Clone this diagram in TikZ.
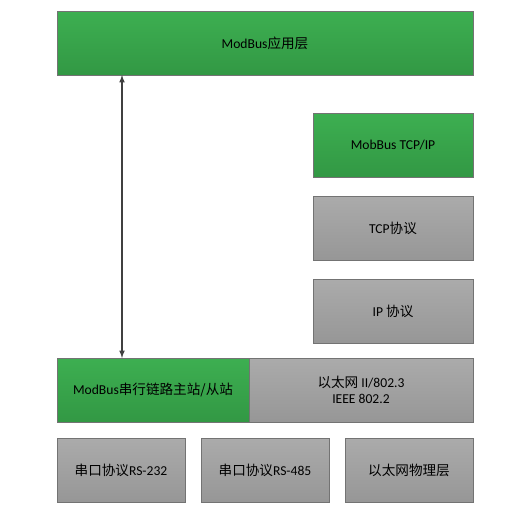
\documentclass[tikz,border=0pt]{standalone}
\usepackage{fontspec}
\setmainfont{Carlito}
\newfontfamily\cjk{Noto Sans CJK SC}
\usetikzlibrary{arrows}
\usetikzlibrary{shadows}

\definecolor{greentop}{RGB}{61,175,81}
\definecolor{greenbottom}{RGB}{50,152,68}

\begin{document}
\begin{tikzpicture}[x=0.75pt, y=-0.75pt,
    layer/.style={draw=black!55, line width=0.6pt, inner sep=0pt, outer sep=0pt,
        align=center, font=\fontsize{10.2}{12.5}\selectfont,
        drop shadow={shadow xshift=1pt, shadow yshift=-1pt, fill=black!20, opacity=0.6}},
    greenlayer/.style={layer, top color=greentop, bottom color=greenbottom},
    graylayer/.style={layer, top color=black!33, bottom color=black!41}]

    \useasboundingbox (0,0) rectangle (526,515);

    % application layer
    \node[greenlayer, minimum width=312pt, minimum height=48pt] (app) at (265,43)
        {ModBus{\cjk 应用层}};

    % tcp/ip stack
    \node[greenlayer, minimum width=120pt, minimum height=48pt] (mbtcp) at (393,145)
        {MobBus TCP/IP};
    \node[graylayer, minimum width=120pt, minimum height=48pt] (tcp) at (393,228)
        {TCP{\cjk 协议}};
    \node[graylayer, minimum width=120pt, minimum height=48pt] (ip) at (393,311)
        {IP {\cjk 协议}};

    % link layer
    \node[greenlayer, minimum width=144pt, minimum height=48pt] (serial) at (153,390)
        {ModBus{\cjk 串行链路主站/从站}};
    \node[graylayer, minimum width=168pt, minimum height=48pt] (ether) at (361,390)
        {{\cjk 以太网} II/802.3\\IEEE 802.2};

    % physical layer
    \node[graylayer, minimum width=96pt, minimum height=48pt] (rs232) at (121,470)
        {{\cjk 串口协议}RS-232};
    \node[graylayer, minimum width=96pt, minimum height=48pt] (rs485) at (265,470)
        {{\cjk 串口协议}RS-485};
    \node[graylayer, minimum width=96pt, minimum height=48pt] (phy) at (409,470)
        {{\cjk 以太网物理层}};

    \coordinate (link) at (122,0);
    \draw[latex-latex, black!75, line width=0.9pt] (app.south -| link) -- (serial.north -| link);

\end{tikzpicture}
\end{document}
